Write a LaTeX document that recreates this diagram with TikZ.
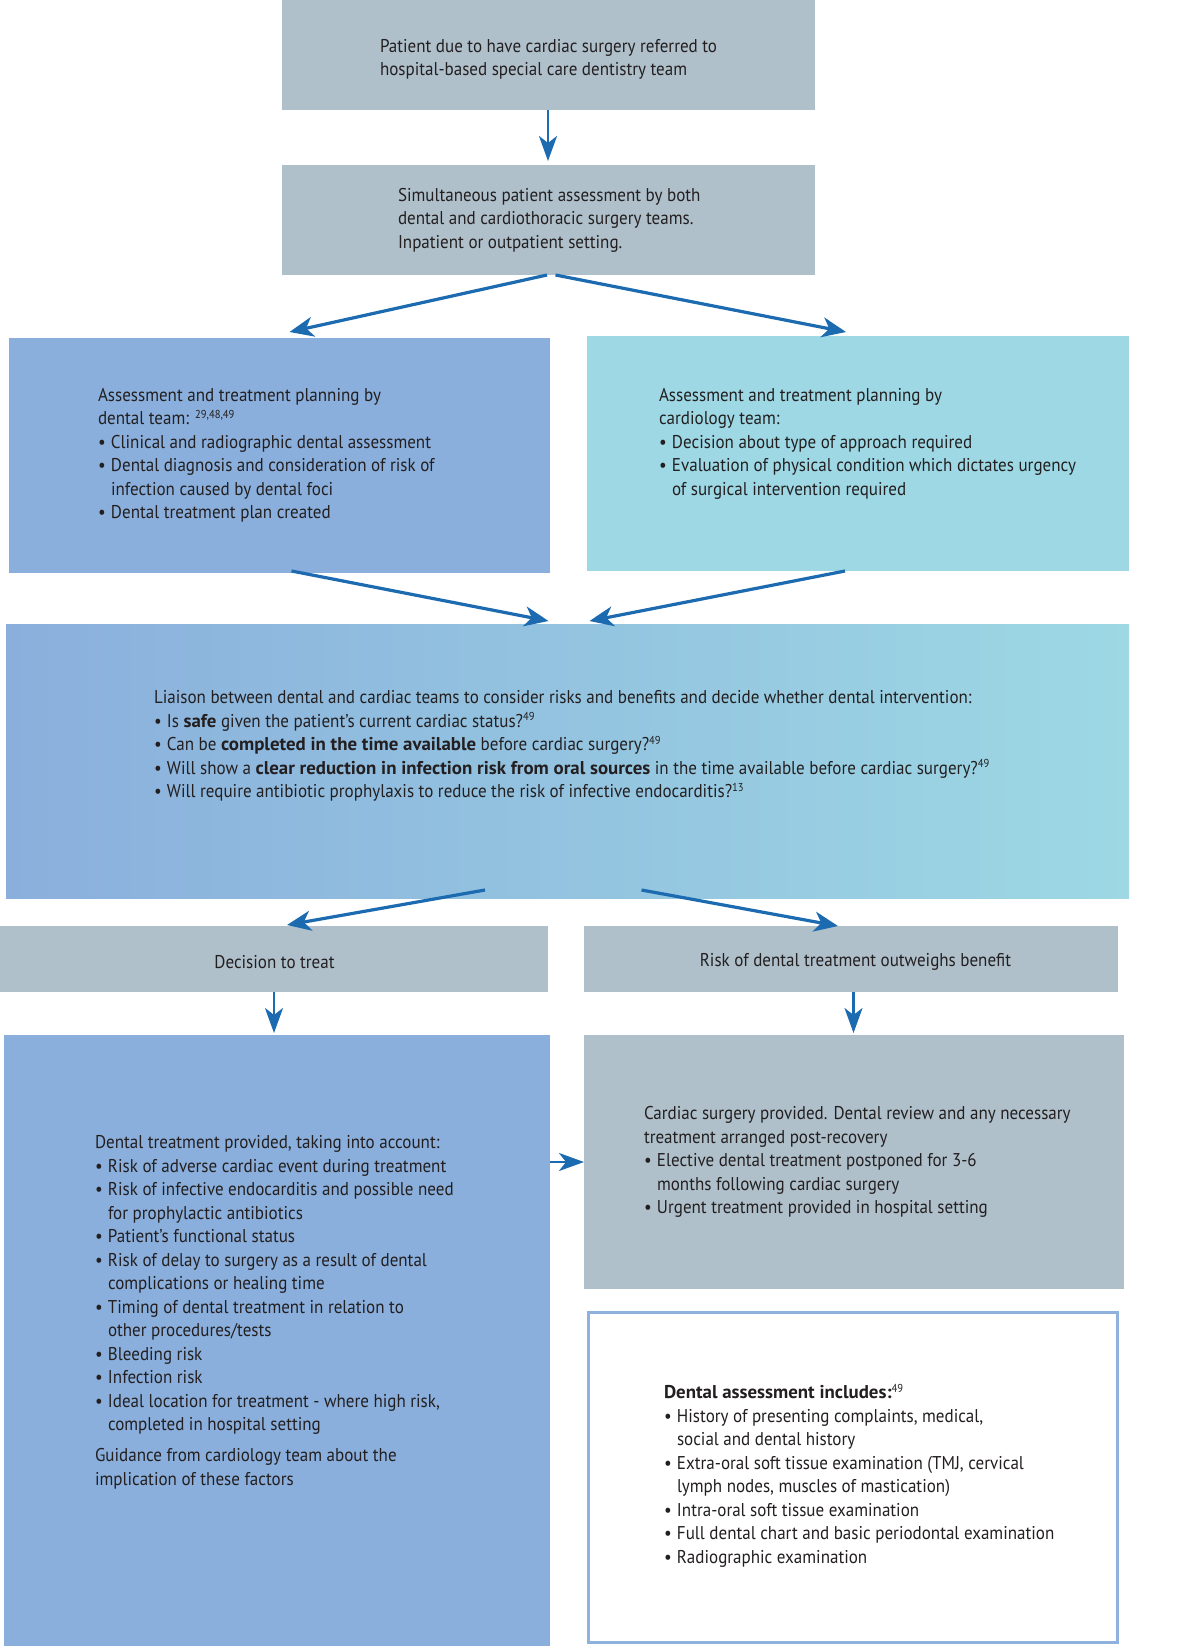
\documentclass[tikz,border=0pt]{standalone}
\usepackage{fontspec}
\setmainfont[FakeStretch=0.92]{PT Sans}
\newfontfamily\wideboldfam[FakeStretch=1.02]{PT Sans}
\newcommand{\wbold}[1]{{\wideboldfam\bfseries #1}}
\usetikzlibrary{arrows.meta,calc}
\definecolor{boxgray}{HTML}{AFC0CB}
\definecolor{planblue}{HTML}{8AAFDC}
\definecolor{cardcyan}{HTML}{9DD8E4}
\definecolor{arrowblue}{HTML}{1C6AB0}
\definecolor{outlineblue}{HTML}{8FB1DE}
\definecolor{textcol}{HTML}{231F20}
\newcommand{\bitem}{\makebox[13pt][l]{•}}
\newcommand{\bcont}{\hspace*{13pt}}
\newcommand{\sref}[1]{\raisebox{6.5pt}{\fontsize{11.5}{11.5}\selectfont #1}}
\tikzset{
  box/.style={rectangle, inner sep=0pt, outer sep=0pt, draw=none},
  gbox/.style={box, fill=boxgray},
  bbox/.style={box, fill=planblue},
  cbox/.style={box, fill=cardcyan},
  txt/.style={anchor=base west, align=left, inner sep=0pt, outer sep=0pt,
    font=\fontsize{18.5}{23.5}\selectfont, text=textcol},
  ctxt/.style={txt, anchor=base},
  arr/.style={draw=arrowblue, line width=3.2pt, -{Stealth[length=24pt,width=20pt,inset=7pt]}},
  arrthin/.style={draw=arrowblue, line width=2.6pt, -{Stealth[length=25pt,width=18pt,inset=7pt]}}
}
\begin{document}
\begin{tikzpicture}[x=1pt,y=-1pt]
\useasboundingbox (0,0) rectangle (1200,1646);
% boxes
\node[gbox, minimum width=533pt, minimum height=110pt] (top) at (548,55) {};
\node[gbox, minimum width=533pt, minimum height=110pt] (box2) at (548,220) {};
\node[bbox, minimum width=541pt, minimum height=235pt] (plan) at (279.5,455.5) {};
\node[cbox, minimum width=542pt, minimum height=235pt] (cardio) at (858,453.5) {};
\node[box, left color=planblue, right color=cardcyan, minimum width=1123pt, minimum height=274pt] (liaison) at (567.5,761) {};
\node[gbox, minimum width=548pt, minimum height=66pt] (decision) at (274,959) {};
\node[gbox, minimum width=534pt, minimum height=66pt] (risk) at (851,959) {};
\node[bbox, minimum width=546pt, minimum height=611pt] (treatment) at (277,1340.5) {};
\node[gbox, minimum width=539.5pt, minimum height=254pt] (cardiac) at (853.75,1162) {};
\node[box, draw=outlineblue, line width=3pt, fill=white, minimum width=529pt, minimum height=330pt] (assess) at (852.5,1477.5) {};
% texts (anchor = baseline of the last line)
\node[txt] (ttop) at (380,75.5) {Patient due to have cardiac surgery referred to\\hospital-based special care dentistry team};
\node[txt] (tbox2) at (398,248) {Simultaneous patient assessment by both\\dental and cardiothoracic surgery teams.\\Inpatient or outpatient setting.};
\node[txt] (tplan) at (98,518.5) {Assessment and treatment planning by\\dental team: \sref{29,48,49}\\\bitem Clinical and radiographic dental assessment\\\bitem Dental diagnosis and consideration of risk of\\\bcont infection caused by dental foci\\\bitem Dental treatment plan created};
\node[txt] (tcardio) at (659,495) {Assessment and treatment planning by\\cardiology team:\\\bitem Decision about type of approach required\\\bitem Evaluation of physical condition which dictates urgency\\\bcont of surgical intervention required};
\node[txt] (tliaison) at (154,797.5) {Liaison between dental and cardiac teams to consider risks and benefits and decide whether dental intervention:\\\bitem Is \wbold{safe} given the patient’s current cardiac status?\sref{49}\\\bitem Can be \wbold{completed in the time available} before cardiac surgery?\sref{49}\\\bitem Will show a \wbold{clear reduction in infection risk from oral sources} in the time available before cardiac surgery?\sref{49}\\\bitem Will require antibiotic prophylaxis to reduce the risk of infective endocarditis?\sref{13}};
\node[ctxt] (tdecision) at (274.5,968) {Decision to treat};
\node[ctxt] (trisk) at (855.5,966) {Risk of dental treatment outweighs benefit};
\node[txt] (ttreat) at (95,1485) {Dental treatment provided, taking into account:\\\bitem Risk of adverse cardiac event during treatment\\\bitem Risk of infective endocarditis and possible need\\\bcont for prophylactic antibiotics\\\bitem Patient’s functional status\\\bitem Risk of delay to surgery as a result of dental\\\bcont complications or healing time\\\bitem Timing of dental treatment in relation to\\\bcont other procedures/tests\\\bitem Bleeding risk\\\bitem Infection risk\\\bitem Ideal location for treatment - where high risk,\\\bcont completed in hospital setting\\[7.5pt]Guidance from cardiology team about the\\implication of these factors};
\node[txt] (tcardiac) at (644,1213.5) {Cardiac surgery provided. Dental review and any necessary\\treatment arranged post-recovery\\\bitem Elective dental treatment postponed for 3-6\\\bcont months following cardiac surgery\\\bitem Urgent treatment provided in hospital setting};
\node[txt] (tassess) at (664,1563) {\wbold{Dental assessment includes:}\sref{49}\\\bitem History of presenting complaints, medical,\\\bcont social and dental history\\\bitem Extra-oral soft tissue examination (TMJ, cervical\\\bcont lymph nodes, muscles of mastication)\\\bitem Intra-oral soft tissue examination\\\bitem Full dental chart and basic periodontal examination\\\bitem Radiographic examination};
% arrows
\draw[arrthin] (top.south) -- ($(box2.north)+(0,-4)$);
\draw[arr] ($(box2.south)+(-1,0)$) -- ($(plan.north)+(10,-6)$);
\draw[arr] ($(box2.south)+(7.5,0)$) -- ($(cardio.north)+(-12,-4)$);
\draw[arr] ($(plan.south)+(12,-2)$) -- ($(liaison.north)+(-19,-3)$);
\draw[arr] ($(cardio.south)+(-13,0)$) -- ($(liaison.north)+(22,-3)$);
\draw[arr] ($(liaison.south)+(-82.5,-8)$) -- ($(decision.north)+(13,-1)$);
\draw[arr] ($(liaison.south)+(74,-8)$) -- ($(risk.north)+(-13,0)$);
\draw[arrthin] (decision.south) -- ($(decision.south |- treatment.north)+(0,-2)$);
\draw[arrthin] ($(risk.south)+(2.5,0)$) -- ($(risk.south |- cardiac.north)+(2.5,-2)$);
\draw[arrthin] (cardiac.west -| treatment.east) -- (cardiac.west);
\end{tikzpicture}
\end{document}
